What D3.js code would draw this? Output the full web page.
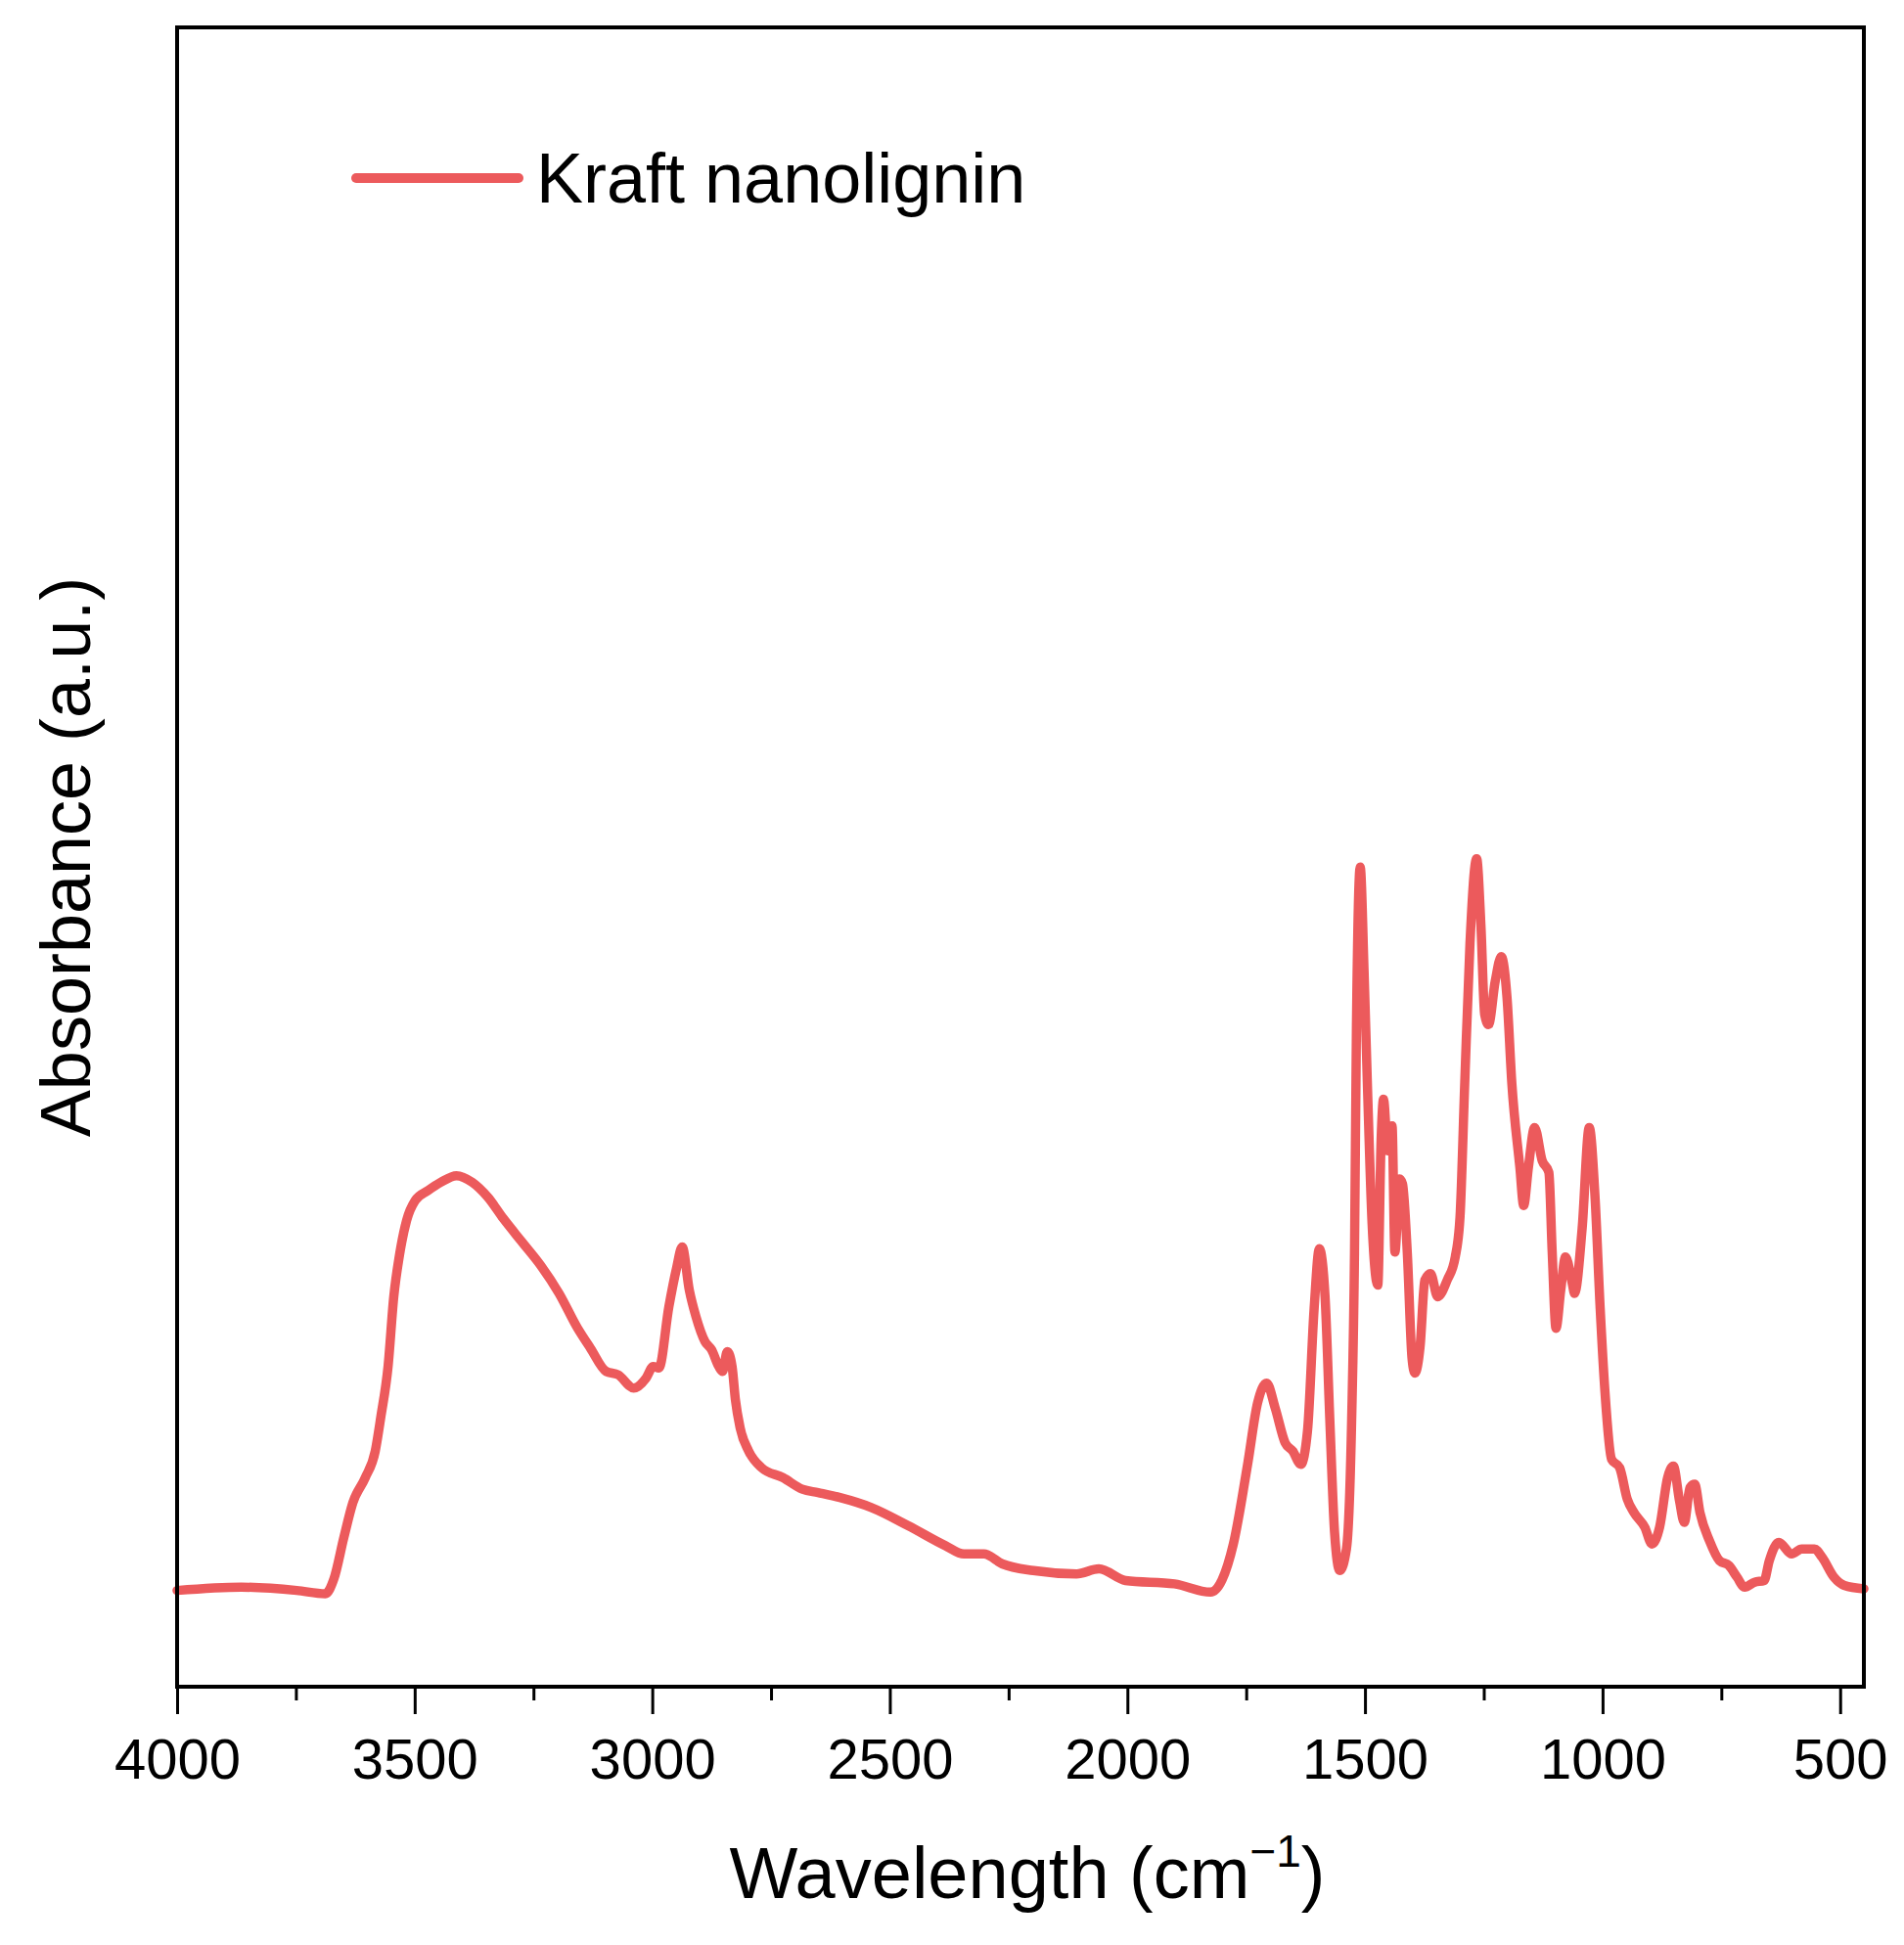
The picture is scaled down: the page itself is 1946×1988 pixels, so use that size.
<!DOCTYPE html>
<html>
<head>
<meta charset="utf-8">
<script src="https://cdn.jsdelivr.net/npm/d3@7"></script>
<style>
  body { margin: 0; background: #fff; }
  text { font-family: "Liberation Sans", Arial, sans-serif; fill: #000; }
</style>
</head>
<body>
<div id="chart"></div>
<script>
// FTIR spectrum (wavenumber in cm-1, absorbance in a.u.)
const wavenumbers = [
  4000, 3865, 3748, 3688, 3670, 3649, 3630, 3604, 3583, 3571, 3556, 3544, 3532, 3517, 3499,
  3472, 3445, 3412, 3379, 3346, 3313, 3274, 3235, 3196, 3157, 3130, 3097, 3072, 3039, 3013,
  2998, 2986, 2965, 2949, 2937, 2922, 2908, 2889, 2875, 2860, 2852, 2842, 2832, 2825, 2815,
  2797, 2770, 2725, 2684, 2651, 2605, 2539, 2461, 2383, 2344, 2302, 2263, 2198, 2107, 2060,
  2004, 1901, 1825, 1777, 1747, 1726, 1707, 1689, 1668, 1652, 1635, 1621, 1607, 1596, 1584,
  1574, 1564, 1553, 1539, 1528, 1522, 1518, 1510, 1502, 1495, 1485, 1473, 1466, 1461, 1452,
  1443, 1437, 1427, 1421, 1411, 1401, 1395, 1384, 1374, 1362, 1347, 1327, 1310, 1300, 1290,
  1279, 1265, 1256, 1248, 1240, 1226, 1213, 1201, 1191, 1174, 1166, 1156, 1143, 1127, 1113,
  1106, 1098, 1088, 1078, 1063, 1059, 1043, 1028, 1016, 1005, 995, 981, 964, 948, 934,
  911, 896, 880, 863, 851, 838, 828, 816, 806, 795, 775, 754, 734, 717, 701,
  680, 660, 649, 629, 602, 581, 554, 538, 513, 491, 450
];
const absorbance = [
  0.058, 0.060, 0.058, 0.056, 0.065, 0.090, 0.111, 0.126, 0.142, 0.163, 0.193, 0.235, 0.260, 0.281, 0.293,
  0.299, 0.304, 0.308, 0.304, 0.295, 0.282, 0.268, 0.254, 0.237, 0.216, 0.204, 0.190, 0.188, 0.180, 0.186,
  0.193, 0.192, 0.229, 0.252, 0.265, 0.239, 0.223, 0.208, 0.203, 0.193, 0.190, 0.202, 0.193, 0.173, 0.156,
  0.142, 0.132, 0.126, 0.119, 0.117, 0.114, 0.108, 0.097, 0.085, 0.080, 0.080, 0.074, 0.070, 0.068, 0.071,
  0.064, 0.062, 0.057, 0.086, 0.134, 0.171, 0.183, 0.168, 0.147, 0.142, 0.134, 0.154, 0.228, 0.264, 0.235,
  0.161, 0.093, 0.070, 0.083, 0.161, 0.262, 0.397, 0.494, 0.432, 0.364, 0.279, 0.242, 0.330, 0.354, 0.323,
  0.338, 0.262, 0.306, 0.303, 0.262, 0.198, 0.189, 0.205, 0.245, 0.249, 0.235, 0.245, 0.259, 0.283, 0.364,
  0.448, 0.499, 0.459, 0.405, 0.399, 0.425, 0.440, 0.415, 0.364, 0.313, 0.290, 0.313, 0.337, 0.317, 0.310,
  0.262, 0.216, 0.239, 0.259, 0.242, 0.237, 0.276, 0.337, 0.296, 0.228, 0.178, 0.137, 0.132, 0.113, 0.105,
  0.096, 0.086, 0.096, 0.126, 0.133, 0.112, 0.099, 0.120, 0.122, 0.105, 0.088, 0.076, 0.073, 0.066, 0.060,
  0.063, 0.064, 0.076, 0.087, 0.080, 0.083, 0.083, 0.078, 0.066, 0.061, 0.059
];
const majorTicks = [4000, 3500, 3000, 2500, 2000, 1500, 1000, 500];
const minorTicks = [3750, 3250, 2750, 2250, 1750, 1250, 750];
const seriesName = 'Kraft nanolignin';

const svg = d3.select('#chart')
    .append('svg')
    .attr('width', 1946)
    .attr('height', 1988);

const margin = { top: 28, right: 41, bottom: 264, left: 181 };
const width = 1946 - margin.left - margin.right;
const height = 1988 - margin.top - margin.bottom;

const g = svg.append('g')
    .attr('transform', 'translate(' + margin.left + ',' + margin.top + ')');

const x = d3.scaleLinear()
    .domain([4000, 450])
    .range([0, width]);

const y = d3.scaleLinear()
    .domain([0, 1])
    .range([height, 0]);

const lineColor = '#ec5a5c';

// spectrum
const line = d3.line()
    .x((d, i) => x(wavenumbers[i]))
    .y(d => y(d))
    .curve(d3.curveMonotoneX);

g.append('path')
    .datum(absorbance)
    .attr('fill', 'none')
    .attr('stroke', lineColor)
    .attr('stroke-width', 9.5)
    .attr('stroke-linejoin', 'round')
    .attr('stroke-linecap', 'round')
    .attr('d', line);

// frame
g.append('rect')
    .attr('x', 0)
    .attr('y', 0)
    .attr('width', width)
    .attr('height', height)
    .attr('fill', 'none')
    .attr('stroke', '#000')
    .attr('stroke-width', 4);

// bottom axis
const xAxis = g.append('g')
    .attr('transform', 'translate(0,' + height + ')')
    .call(d3.axisBottom(x).tickValues(majorTicks).tickSize(28).tickPadding(25).tickFormat(d3.format('d')));
xAxis.select('.domain').remove();
xAxis.selectAll('.tick line').attr('stroke', '#000').attr('stroke-width', 3);
xAxis.selectAll('.tick text')
    .style('font-family', '"Liberation Sans", Arial, sans-serif')
    .style('font-size', '58px');

const xMinor = g.append('g')
    .attr('transform', 'translate(0,' + height + ')')
    .call(d3.axisBottom(x).tickValues(minorTicks).tickSize(14).tickFormat(''));
xMinor.select('.domain').remove();
xMinor.selectAll('.tick line').attr('stroke', '#000').attr('stroke-width', 3);

// axis titles
const xTitle = svg.append('text')
    .attr('x', 1050)
    .attr('y', 1940)
    .attr('text-anchor', 'middle')
    .style('font-size', '74px');
xTitle.append('tspan').text('Wavelength (cm');
xTitle.append('tspan').attr('dy', -32).style('font-size', '46px').text('\u22121');
xTitle.append('tspan').attr('dy', 32).text(')');

svg.append('text')
    .attr('transform', 'translate(92,876) rotate(-90)')
    .attr('text-anchor', 'middle')
    .style('font-size', '72px')
    .text('Absorbance (a.u.)');

// legend
svg.append('line')
    .attr('x1', 364)
    .attr('x2', 530)
    .attr('y1', 182)
    .attr('y2', 182)
    .attr('stroke', lineColor)
    .attr('stroke-width', 10)
    .attr('stroke-linecap', 'round');

svg.append('text')
    .attr('x', 548)
    .attr('y', 207)
    .style('font-size', '72px')
    .text(seriesName);
</script>
</body>
</html>
